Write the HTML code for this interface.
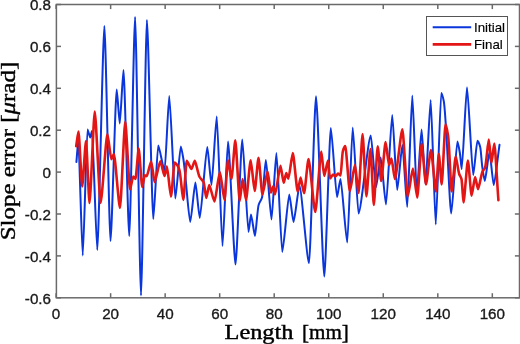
<!DOCTYPE html>
<html><head><meta charset="utf-8"><style>
html,body{margin:0;padding:0;background:#fff;}
body{width:520px;height:344px;overflow:hidden;}
svg{display:block;}
.tk{font-family:"Liberation Sans",Arial,sans-serif;font-size:15.2px;fill:#1a1a1a;stroke:#1a1a1a;stroke-width:0.35px;}
.lab{font-family:"Liberation Serif","Times New Roman",serif;font-weight:normal;font-size:20.5px;fill:#000;stroke:#000;stroke-width:0.4px;}
.lg{font-family:"Liberation Sans",Arial,sans-serif;font-size:13.3px;fill:#000;stroke:#000;stroke-width:0.15px;}
</style></head><body>
<svg width="520" height="344" viewBox="0 0 520 344">
<rect width="520" height="344" fill="#fff"/>
<g>
<g fill="none" stroke-linejoin="round" stroke-linecap="round">
<path d="M76.40,162.00C77.03,155.00 77.92,141.00 78.30,141.00C79.19,141.00 81.86,255.50 82.75,255.50C83.70,255.50 86.55,129.50 87.50,129.50C88.04,129.50 89.66,137.50 90.20,137.50C90.56,137.50 91.64,131.00 92.00,131.00C93.05,131.00 96.20,250.00 97.25,250.00C98.68,250.00 102.97,26.00 104.40,26.00C105.62,26.00 109.28,241.00 110.50,241.00C111.74,241.00 115.46,89.50 116.70,89.50C117.31,89.50 119.14,123.50 119.75,123.50C120.50,123.50 122.75,70.00 123.50,70.00C124.65,70.00 128.10,236.00 129.25,236.00C130.42,236.00 133.93,17.00 135.10,17.00C136.28,17.00 139.82,295.50 141.00,295.50C142.18,295.50 145.72,20.00 146.90,20.00C148.18,20.00 152.02,219.00 153.30,219.00C154.28,219.00 157.22,145.50 158.20,145.50C159.48,145.50 163.32,171.00 164.60,171.00C165.53,171.00 168.32,96.00 169.25,96.00C170.46,96.00 174.09,198.50 175.30,198.50C176.40,198.50 179.70,146.50 180.80,146.50C181.30,146.50 182.47,153.50 183.30,158.50C185.62,172.40 188.86,222.00 190.25,222.00C191.28,222.00 194.37,182.50 195.40,182.50C196.27,182.50 198.88,218.00 199.75,218.00C201.26,218.00 205.79,147.00 207.30,147.00C208.14,147.00 210.66,185.00 211.50,185.00C212.55,185.00 215.70,116.50 216.75,116.50C217.90,116.50 221.35,246.00 222.50,246.00C223.60,246.00 226.90,141.60 228.00,141.60C229.50,141.60 234.00,264.50 235.50,264.50C236.86,264.50 240.94,139.50 242.30,139.50C243.54,139.50 247.26,232.00 248.50,232.00C249.00,232.00 250.50,214.50 251.00,214.50C251.80,214.50 254.20,236.00 255.00,236.00C255.72,236.00 257.40,209.19 258.60,205.00C259.73,201.04 260.87,201.51 262.00,197.50C263.30,192.90 265.12,160.00 265.90,160.00C267.02,160.00 270.38,219.50 271.50,219.50C272.48,219.50 275.42,153.00 276.40,153.00C277.57,153.00 281.08,252.00 282.25,252.00C283.66,252.00 287.89,194.40 289.30,194.40C290.14,194.40 292.66,222.00 293.50,222.00C294.70,222.00 298.30,186.00 299.50,186.00C301.40,186.00 307.10,263.00 309.00,263.00C310.40,263.00 314.60,96.30 316.00,96.30C317.66,96.30 322.64,276.50 324.30,276.50C325.60,276.50 329.50,128.00 330.80,128.00C332.04,128.00 335.76,197.00 337.00,197.00C337.70,197.00 339.80,179.00 340.50,179.00C341.85,179.00 345.90,242.50 347.25,242.50C348.34,242.50 351.61,127.50 352.70,127.50C353.86,127.50 357.34,213.50 358.50,213.50C360.96,213.50 368.34,135.50 370.80,135.50C371.84,135.50 374.96,187.00 376.00,187.00C376.94,187.00 379.76,157.50 380.70,157.50C381.76,157.50 384.94,204.50 386.00,204.50C387.25,204.50 391.00,115.00 392.25,115.00C393.24,115.00 396.21,190.00 397.20,190.00C398.24,190.00 401.36,145.00 402.40,145.00C403.37,145.00 406.28,207.00 407.25,207.00C408.26,207.00 411.29,95.50 412.30,95.50C413.20,95.50 415.90,192.00 416.80,192.00C417.76,192.00 420.64,129.50 421.60,129.50C422.38,129.50 424.72,184.00 425.50,184.00C426.54,184.00 429.66,100.00 430.70,100.00C431.71,100.00 434.74,224.50 435.75,224.50C436.85,224.50 440.15,93.00 441.25,93.00C441.75,93.00 442.92,97.03 443.75,101.00C446.25,112.90 449.75,213.50 451.25,213.50C452.48,213.50 456.17,141.50 457.40,141.50C457.88,141.50 459.00,147.64 459.80,152.50C460.43,156.35 461.32,169.00 461.70,169.00C462.76,169.00 465.94,87.25 467.00,87.25C468.24,87.25 471.96,175.00 473.20,175.00C474.04,175.00 476.56,140.80 477.40,140.80C477.96,140.80 479.27,143.54 480.20,147.00C480.90,149.59 481.60,162.03 482.30,167.00C483.13,172.92 484.30,181.00 484.80,181.00C485.74,181.00 488.56,152.00 489.50,152.00C490.34,152.00 492.86,185.00 493.70,185.00C494.86,185.00 497.57,158.20 499.50,144.80" stroke="#0a36dc" stroke-width="2.0"/>
<path d="M76.20,146.20C76.97,141.30 78.04,131.50 78.50,131.50C79.24,131.50 81.46,186.50 82.20,186.50C82.96,186.50 85.24,141.00 86.00,141.00C86.70,141.00 88.80,203.00 89.50,203.00C90.55,203.00 93.70,111.50 94.75,111.50C95.92,111.50 99.43,203.00 100.60,203.00C101.96,203.00 106.04,134.00 107.40,134.00C108.18,134.00 110.52,159.30 111.30,159.30C111.82,159.30 113.38,154.00 113.90,154.00C115.12,154.00 118.78,208.00 120.00,208.00C121.05,208.00 124.20,121.50 125.25,121.50C126.20,121.50 129.05,189.50 130.00,189.50C130.64,189.50 132.56,176.50 133.20,176.50C133.66,176.50 135.04,179.00 135.50,179.00C136.14,179.00 138.06,148.50 138.70,148.50C139.40,148.50 141.50,187.00 142.20,187.00C142.72,187.00 144.28,175.20 144.80,175.20C145.18,175.20 146.32,176.20 146.70,176.20C147.60,176.20 150.30,161.50 151.20,161.50C151.88,161.50 153.92,182.00 154.60,182.00C155.74,182.00 159.16,161.20 160.30,161.20C161.16,161.20 163.74,176.00 164.60,176.00C165.06,176.00 166.44,166.50 166.90,166.50C167.72,166.50 170.18,196.50 171.00,196.50C171.72,196.50 173.88,162.50 174.60,162.50C175.18,162.50 176.53,164.07 177.50,165.50C178.13,166.44 178.77,167.84 179.40,170.00C180.70,174.44 182.52,200.00 183.30,200.00C183.98,200.00 186.02,160.80 186.70,160.80C187.66,160.80 190.54,169.00 191.50,169.00C192.16,169.00 194.14,160.80 194.80,160.80C195.76,160.80 198.00,174.07 199.60,177.00C200.90,179.38 202.20,179.18 203.50,182.00C204.43,184.02 205.74,198.00 206.30,198.00C206.88,198.00 208.62,185.00 209.20,185.00C210.26,185.00 213.44,201.50 214.50,201.50C215.58,201.50 218.82,172.00 219.90,172.00C220.82,172.00 223.58,200.00 224.50,200.00C225.20,200.00 227.30,160.20 228.00,160.20C228.70,160.20 230.80,179.00 231.50,179.00C232.26,179.00 234.54,140.20 235.30,140.20C236.18,140.20 238.82,201.00 239.70,201.00C240.28,201.00 242.02,179.00 242.60,179.00C243.28,179.00 245.32,200.00 246.00,200.00C246.94,200.00 249.76,160.20 250.70,160.20C251.50,160.20 253.90,191.00 254.70,191.00C255.46,191.00 257.74,157.70 258.50,157.70C259.28,157.70 261.62,194.40 262.40,194.40C263.44,194.40 266.56,171.50 267.60,171.50C268.26,171.50 270.24,192.70 270.90,192.70C271.38,192.70 272.82,186.30 273.30,186.30C273.64,186.30 274.66,194.40 275.00,194.40C276.10,194.40 279.40,165.80 280.50,165.80C281.14,165.80 283.06,182.80 283.70,182.80C284.22,182.80 285.78,173.00 286.30,173.00C286.72,173.00 287.98,178.70 288.40,178.70C289.28,178.70 291.92,153.00 292.80,153.00C293.78,153.00 296.72,191.50 297.70,191.50C298.28,191.50 300.02,177.60 300.60,177.60C301.30,177.60 303.40,193.30 304.10,193.30C304.98,193.30 307.62,159.10 308.50,159.10C309.86,159.10 313.94,212.00 315.30,212.00C316.50,212.00 320.10,151.50 321.30,151.50C321.88,151.50 323.62,176.00 324.20,176.00C324.96,176.00 327.24,160.50 328.00,160.50C328.40,160.50 329.60,178.50 330.00,178.50C330.60,178.50 332.40,174.50 333.00,174.50C333.50,174.50 335.00,176.50 335.50,176.50C336.00,176.50 337.50,173.50 338.00,173.50C338.52,173.50 340.08,175.50 340.60,175.50C341.06,175.50 342.13,153.68 342.90,151.00C343.70,148.20 344.82,146.00 345.30,146.00C346.20,146.00 348.90,191.30 349.80,191.30C350.84,191.30 353.96,164.90 355.00,164.90C355.70,164.90 357.80,193.00 358.50,193.00C359.32,193.00 361.78,134.10 362.60,134.10C363.36,134.10 365.64,196.40 366.40,196.40C367.22,196.40 369.68,149.00 370.50,149.00C371.16,149.00 373.14,205.00 373.80,205.00C374.58,205.00 376.92,146.20 377.70,146.20C378.40,146.20 380.50,181.00 381.20,181.00C382.08,181.00 384.72,142.10 385.60,142.10C386.28,142.10 388.32,165.00 389.00,165.00C389.50,165.00 391.00,158.50 391.50,158.50C392.18,158.50 394.22,179.00 394.90,179.00C396.40,179.00 400.90,129.30 402.40,129.30C403.46,129.30 406.64,196.40 407.70,196.40C408.74,196.40 411.86,168.50 412.90,168.50C413.78,168.50 416.42,197.50 417.30,197.50C418.16,197.50 420.74,144.00 421.60,144.00C422.48,144.00 425.12,184.40 426.00,184.40C426.98,184.40 429.92,150.00 430.90,150.00C431.92,150.00 434.98,191.40 436.00,191.40C436.56,191.40 438.24,154.00 438.80,154.00C439.38,154.00 441.12,184.40 441.70,184.40C442.46,184.40 444.74,124.30 445.50,124.30C446.02,124.30 447.23,130.09 448.10,136.00C449.27,143.96 450.90,191.40 451.60,191.40C452.42,191.40 454.88,156.50 455.70,156.50C456.40,156.50 458.03,170.46 459.20,174.00C459.97,176.33 460.73,176.25 461.50,179.20C462.17,181.76 463.10,202.50 463.50,202.50C464.38,202.50 467.02,160.50 467.90,160.50C468.64,160.50 470.86,195.60 471.60,195.60C472.30,195.60 474.40,177.00 475.10,177.00C475.68,177.00 477.42,189.20 478.00,189.20C478.94,189.20 481.13,174.29 482.70,171.10C483.47,169.54 484.23,169.49 485.00,167.70C486.27,164.74 488.04,139.50 488.80,139.50C489.32,139.50 490.88,163.00 491.40,163.00C491.98,163.00 493.72,143.60 494.30,143.60C495.12,143.60 497.03,181.33 498.40,200.20" stroke="#e31515" stroke-width="2.6"/>
</g>
<g stroke="#6a6a6a" stroke-width="1.5" fill="none">
<rect x="56.4" y="4.5" width="463.1" height="293.3"/>
<line x1="56.10" y1="297.8" x2="56.10" y2="293.20"/><line x1="56.10" y1="4.5" x2="56.10" y2="9.10"/><line x1="110.63" y1="297.8" x2="110.63" y2="293.20"/><line x1="110.63" y1="4.5" x2="110.63" y2="9.10"/><line x1="165.16" y1="297.8" x2="165.16" y2="293.20"/><line x1="165.16" y1="4.5" x2="165.16" y2="9.10"/><line x1="219.68" y1="297.8" x2="219.68" y2="293.20"/><line x1="219.68" y1="4.5" x2="219.68" y2="9.10"/><line x1="274.21" y1="297.8" x2="274.21" y2="293.20"/><line x1="274.21" y1="4.5" x2="274.21" y2="9.10"/><line x1="328.74" y1="297.8" x2="328.74" y2="293.20"/><line x1="328.74" y1="4.5" x2="328.74" y2="9.10"/><line x1="383.27" y1="297.8" x2="383.27" y2="293.20"/><line x1="383.27" y1="4.5" x2="383.27" y2="9.10"/><line x1="437.80" y1="297.8" x2="437.80" y2="293.20"/><line x1="437.80" y1="4.5" x2="437.80" y2="9.10"/><line x1="492.32" y1="297.8" x2="492.32" y2="293.20"/><line x1="492.32" y1="4.5" x2="492.32" y2="9.10"/><line x1="56.4" y1="4.50" x2="61.00" y2="4.50"/><line x1="519.5" y1="4.50" x2="514.90" y2="4.50"/><line x1="56.4" y1="46.40" x2="61.00" y2="46.40"/><line x1="519.5" y1="46.40" x2="514.90" y2="46.40"/><line x1="56.4" y1="88.30" x2="61.00" y2="88.30"/><line x1="519.5" y1="88.30" x2="514.90" y2="88.30"/><line x1="56.4" y1="130.20" x2="61.00" y2="130.20"/><line x1="519.5" y1="130.20" x2="514.90" y2="130.20"/><line x1="56.4" y1="172.10" x2="61.00" y2="172.10"/><line x1="519.5" y1="172.10" x2="514.90" y2="172.10"/><line x1="56.4" y1="214.00" x2="61.00" y2="214.00"/><line x1="519.5" y1="214.00" x2="514.90" y2="214.00"/><line x1="56.4" y1="255.90" x2="61.00" y2="255.90"/><line x1="519.5" y1="255.90" x2="514.90" y2="255.90"/><line x1="56.4" y1="297.80" x2="61.00" y2="297.80"/><line x1="519.5" y1="297.80" x2="514.90" y2="297.80"/>
</g>
<g class="tk"><text x="56.10" y="318.8" text-anchor="middle">0</text><text x="110.63" y="318.8" text-anchor="middle">20</text><text x="165.16" y="318.8" text-anchor="middle">40</text><text x="219.68" y="318.8" text-anchor="middle">60</text><text x="274.21" y="318.8" text-anchor="middle">80</text><text x="328.74" y="318.8" text-anchor="middle">100</text><text x="383.27" y="318.8" text-anchor="middle">120</text><text x="437.80" y="318.8" text-anchor="middle">140</text><text x="492.32" y="318.8" text-anchor="middle">160</text><text x="51.0" y="10.20" text-anchor="end">0.8</text><text x="51.0" y="52.10" text-anchor="end">0.6</text><text x="51.0" y="94.00" text-anchor="end">0.4</text><text x="51.0" y="135.90" text-anchor="end">0.2</text><text x="51.0" y="177.80" text-anchor="end">0</text><text x="51.0" y="219.70" text-anchor="end">-0.2</text><text x="51.0" y="261.60" text-anchor="end">-0.4</text><text x="51.0" y="303.50" text-anchor="end">-0.6</text></g>
<text class="lab" x="224.5" y="338.9" textLength="69" lengthAdjust="spacingAndGlyphs">Length</text><text class="lab" x="302.0" y="338.9" textLength="46.8" lengthAdjust="spacingAndGlyphs">[mm]</text>
<text class="lab" transform="translate(14.8,151.0) rotate(-90)" text-anchor="middle" textLength="178.5" lengthAdjust="spacingAndGlyphs">Slope error [<tspan font-style="italic" font-weight="normal">μ</tspan>rad]</text>
<g>
<rect x="426.5" y="16.5" width="81" height="39" fill="#fff" stroke="#555555" stroke-width="1.0"/>
<line x1="432.7" y1="27.3" x2="471.2" y2="27.3" stroke="#0a36dc" stroke-width="2.0"/>
<line x1="432.7" y1="44.4" x2="471.2" y2="44.4" stroke="#e31515" stroke-width="2.6"/>
<text class="lg" x="474.0" y="32.1">Initial</text>
<text class="lg" x="474.0" y="49.0">Final</text>
</g>
</g>
</svg>
</body></html>
